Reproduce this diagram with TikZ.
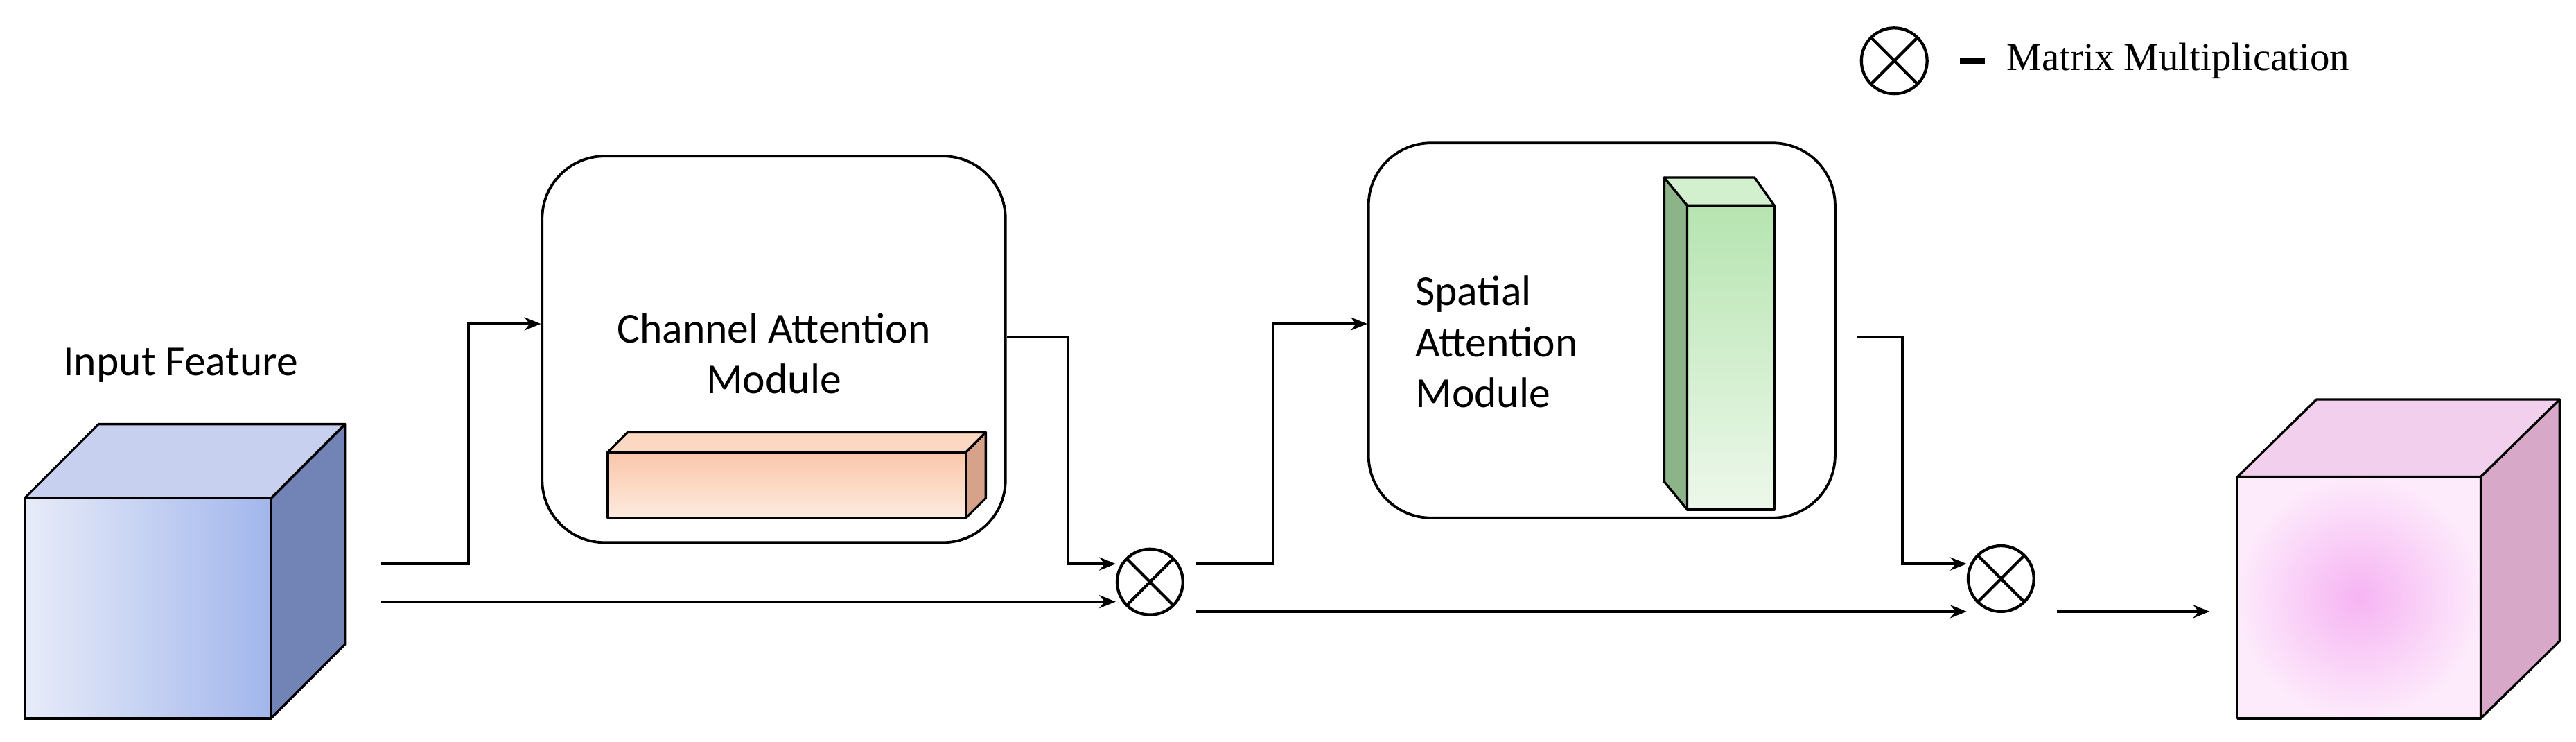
\documentclass[tikz,border=0pt]{standalone}
\usepackage{fontspec}
\setmainfont{Carlito}
\newfontfamily\serifleg{Liberation Serif}
\usetikzlibrary{arrows.meta,shapes.misc}
\definecolor{inL}{HTML}{E8ECF9}\definecolor{inR}{HTML}{A2B6EC}
\definecolor{inS}{HTML}{7283B6}\definecolor{inT}{HTML}{C8D0F0}
\definecolor{ouC}{HTML}{F6B4F3}\definecolor{ouE}{HTML}{FDEAFB}
\definecolor{ouS}{HTML}{D7A8C8}\definecolor{ouT}{HTML}{F3CFEE}
\definecolor{orT}{HTML}{FBC6A8}\definecolor{orB}{HTML}{FDEBE0}\definecolor{orS}{HTML}{D6A28A}
\definecolor{grT}{HTML}{B6E4B0}\definecolor{grB}{HTML}{EDF8EB}\definecolor{grS}{HTML}{8DB488}\definecolor{grTop}{HTML}{D2EFCE}
\tikzset{
 edge/.style={line width=1.6pt,line join=miter},
 arr/.style={edge,-{Stealth[length=10pt,width=8pt]}},
 ot/.style={draw,line width=1.8pt,circle,cross out,minimum size=0pt,inner sep=0pt},
 mul/.style={draw,line width=1.8pt,circle,minimum size=40pt,inner sep=0pt,
   path picture={\draw[line width=1.8pt] (path picture bounding box.north west)--(path picture bounding box.south east)
   (path picture bounding box.north east)--(path picture bounding box.south west);}},
 box/.style={draw,line width=1.6pt,rounded corners=38pt},
 lbl/.style={font=\fontsize{26}{31}\selectfont,align=center},
 face/.style={draw,line width=1.4pt,line join=round}
}
\begin{document}
\begin{tikzpicture}[x=1pt,y=-1pt]
\useasboundingbox (0,0) rectangle (1568,451);
% input cube
\shade[left color=inL,right color=inR] (15,303) rectangle (165,437);
\draw[face] (15,303) rectangle (165,437);
\draw[face,fill=inS] (165,303)--(210,258)--(210,392)--(165,437)--cycle;
\draw[face,fill=inT] (15,303)--(60,258)--(210,258)--(165,303)--cycle;
\node[lbl] (inlab) at (110,222) {Input Feature};
% output cube
\shade[inner color=ouC,outer color=ouE] (1362,290) rectangle (1510,437);
\draw[face] (1362,290) rectangle (1510,437);
\draw[face,fill=ouS] (1510,290)--(1558,243)--(1558,390)--(1510,437)--cycle;
\draw[face,fill=ouT] (1362,290)--(1410,243)--(1558,243)--(1510,290)--cycle;
% channel module
\node[box,minimum width=282pt,minimum height=235pt] (cam) at (471,212.5) {};
\node[lbl] (camt) at (471,215) {Channel Attention\\Module};
\shade[top color=orT,bottom color=orB] (370,275) rectangle (588,315);
\draw[face] (370,275) rectangle (588,315);
\draw[face,fill=orS] (588,275)--(600,263)--(600,303)--(588,315)--cycle;
\draw[face,fill=orT!70!white] (370,275)--(382,263)--(600,263)--(588,275)--cycle;
% spatial module
\node[box,minimum width=284pt,minimum height=228pt] (sam) at (975,201) {};
\node[lbl,align=left,anchor=west] (samt) at (858,208) {Spatial\\Attention\\Module};
\shade[top color=grT,bottom color=grB] (1027,125) rectangle (1080,310);
\draw[face] (1027,125) rectangle (1080,310);
\draw[face,fill=grS] (1027,125)--(1013,108)--(1013,293)--(1027,310)--cycle;
\draw[face,fill=grTop] (1027,125)--(1013,108)--(1068,108)--(1080,125)--cycle;
% multipliers
\node[mul] (m1) at (700,354) {};
\node[mul] (m2) at (1218,352) {};
\node[mul] (mleg) at (1153,37) {};
\node[anchor=west,font=\serifleg\fontsize{24}{28}\selectfont] (legt) at (1218,37) {Matrix Multiplication};
\draw[line width=4pt] (1193,37)--(1208,37);
% coordinates
\coordinate (a0) at (232,343); \coordinate (b0) at (232,366);
\coordinate (c0) at (728,343); \coordinate (d0) at (728,372);
\coordinate (e0) at (1252,372); \coordinate (out) at (1345,372);
% connectors
\draw[arr] (a0) -- (285,343) |- (cam.west |- 0,197);
\draw[arr] (b0) -- (m1.west |- 0,366);
\draw[arr] (cam.east |- 0,205) -- (650,205) |- (m1.west |- 0,343);
\draw[arr] (c0) -- (775,343) |- (sam.west |- 0,197);
\draw[arr] (d0) -- (m2.west |- 0,372);
\draw[arr] (1130,205) -- (1158,205) |- (m2.west |- 0,343);
\draw[arr] (e0) -- (out);
\end{tikzpicture}
\end{document}
